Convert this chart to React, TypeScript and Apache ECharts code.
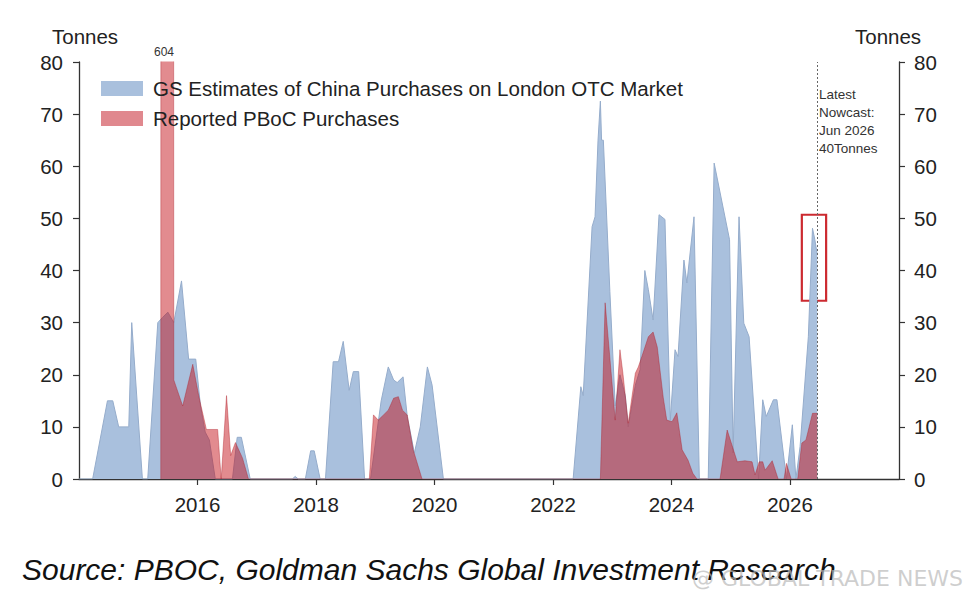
import React, { useEffect, useRef } from "react";
import * as echarts from "echarts";

// GS estimates of China purchases on London OTC market (decimal year, tonnes)
const gsDates = [
  2014.0, 2014.23, 2014.48, 2014.57, 2014.67, 2014.84, 2014.89, 2015.07, 2015.16, 2015.33,
  2015.41, 2015.5, 2015.6, 2015.73, 2015.85, 2015.97, 2016.05, 2016.13, 2016.2, 2016.3,
  2016.59, 2016.67, 2016.74, 2016.89, 2017.6, 2017.65, 2017.7, 2017.82, 2017.91, 2017.97,
  2018.07, 2018.16, 2018.29, 2018.38, 2018.46, 2018.56, 2018.63, 2018.72, 2018.82, 2018.92,
  2019.1, 2019.22, 2019.31, 2019.37, 2019.47, 2019.54, 2019.66, 2019.76, 2019.88, 2019.96,
  2020.15, 2022.34, 2022.47, 2022.51, 2022.66, 2022.71, 2022.76, 2022.8, 2022.82, 2022.85,
  2022.96, 2023.05, 2023.13, 2023.22, 2023.27, 2023.39, 2023.47, 2023.55, 2023.61, 2023.69,
  2023.79, 2023.89, 2023.98, 2024.06, 2024.11, 2024.21, 2024.26, 2024.38, 2024.47, 2024.62,
  2024.72, 2024.98, 2025.04, 2025.14, 2025.22, 2025.31, 2025.47, 2025.54, 2025.6, 2025.72,
  2025.78, 2025.94, 2026.04, 2026.1, 2026.17, 2026.31, 2026.38, 2026.42, 2026.46,
];
const gsTonnes = [
  0, 0, 15, 15, 10, 10, 30, 0, 0, 30,
  31, 32, 30, 38, 23, 23, 14, 9, 7.5, 0,
  0, 8, 8, 0, 0, 0.5, 0, 0, 5.4, 5.4,
  0, 0, 22.5, 22.5, 26.4, 17, 20.6, 20.6, 0, 0,
  15, 21.5, 19, 18.5, 19.6, 12, 5, 10, 21.5, 18,
  0, 0, 17.7, 16, 48.4, 50.3, 65, 72.5, 65, 65,
  36, 14, 20, 16, 10, 18, 21, 40, 36.3, 30.5,
  50.7, 49.8, 11.3, 24.8, 23.5, 42, 37.6, 50.3, 0, 0,
  60.6, 45.9, 5, 50.3, 29.9, 27.3, 0, 15.2, 12, 15.2,
  15.2, 0, 10.4, 0, 6.2, 27.3, 48.1, 45.9, 43,
];

// Reported PBoC purchases (decimal year, tonnes)
const pbocDates = [
  2015.38, 2015.39, 2015.58, 2015.6, 2015.75, 2015.92, 2016.02, 2016.15, 2016.34, 2016.4,
  2016.49, 2016.56, 2016.64, 2016.76, 2016.86, 2018.9, 2018.97, 2019.05, 2019.14, 2019.22,
  2019.31, 2019.39, 2019.46, 2019.54, 2019.64, 2019.79, 2022.8, 2022.88, 2023.05, 2023.13,
  2023.18, 2023.27, 2023.39, 2023.44, 2023.5, 2023.61, 2023.69, 2023.76, 2023.86, 2023.92,
  2024.01, 2024.09, 2024.18, 2024.28, 2024.36, 2024.43, 2024.82, 2024.94, 2025.11, 2025.24,
  2025.36, 2025.41, 2025.48, 2025.54, 2025.58, 2025.7, 2025.8, 2025.9, 2025.94, 2026.02,
  2026.13, 2026.2, 2026.27, 2026.38, 2026.46,
];
const pbocTonnes = [
  0, 604, 604, 19, 14, 22, 16, 9.5, 9.5, 0,
  16, 4.5, 7, 4, 0, 0, 12.3, 11.3, 12.3, 13.2,
  15.5, 15.8, 13.2, 12.3, 5.6, 0, 0, 33.8, 11.3, 24.8,
  20.3, 10.7, 20.3, 21.5, 23.5, 27.3, 28.2, 25.3, 15.7, 11.3,
  11, 12.7, 5.6, 3.6, 1.1, 0, 0, 9.4, 3.3, 3.5,
  3.3, 0.8, 3.3, 3.3, 1.7, 3.5, 0, 0, 3, 0,
  0, 6.9, 7.5, 12.6, 12.6,
];

const yearTicks = [2016, 2018, 2020, 2022, 2024, 2026];
const seriesNames = [
  "GS Estimates of China Purchases on London OTC Market",
  "Reported PBoC Purchases",
];
const nowcastDate = 2026.46;
const nowcastLines = ["Latest", "Nowcast:", "Jun 2026", "40Tonnes"];
const highlightBox = { x0: 2026.2, x1: 2026.61, y0: 34.2, y1: 50.7 };
const spikeLabel = "604";

const FONT = "'Liberation Sans', Arial, Helvetica, sans-serif";

export default function App() {
  const ref = useRef<HTMLDivElement>(null);

  useEffect(() => {
    if (!ref.current) return;
    const chart = echarts.init(ref.current, null, { renderer: "svg" });

    const yAxisCommon = {
      type: "value" as const,
      min: 0,
      max: 80,
      interval: 10,
      splitLine: { show: false },
      axisLine: { show: true, lineStyle: { color: "#333", width: 1.3 } },
      axisTick: { show: true, length: 6, lineStyle: { color: "#333", width: 1.2 } },
      axisLabel: { color: "#222", fontSize: 20.5, fontFamily: FONT },
    };

    const option = {
      animation: false,
      backgroundColor: "#fff",
      textStyle: { fontFamily: FONT },
      grid: { left: 79, right: 75, top: 62, bottom: 125, containLabel: false },
      legend: {
        orient: "vertical",
        left: 96,
        top: 73,
        itemWidth: 42,
        itemHeight: 15,
        itemGap: 9,
        selectedMode: false,
        icon: "rect",
        textStyle: {
          color: "#222",
          fontSize: 20.5,
          fontFamily: FONT,
          lineHeight: 20,
          padding: [0, 0, 0, 5],
        },
        data: [
          { name: seriesNames[0], itemStyle: { color: "#a9c0dd", borderWidth: 0 } },
          { name: seriesNames[1], itemStyle: { color: "#e0888e", borderWidth: 0 } },
        ],
      },
      xAxis: {
        type: "value",
        min: 2014.0,
        max: 2027.84,
        splitLine: { show: false },
        axisLine: { show: true, onZero: false, lineStyle: { color: "#333", width: 1.3 } },
        axisTick: {
          show: true,
          length: 6,
          customValues: yearTicks,
          lineStyle: { color: "#333", width: 1.2 },
        },
        axisLabel: {
          customValues: yearTicks,
          color: "#222",
          fontSize: 20.5,
          fontFamily: FONT,
          margin: 15,
          formatter: (v: number) => String(Math.round(v)),
        },
      },
      yAxis: [
        { ...yAxisCommon, position: "left", axisLabel: { ...yAxisCommon.axisLabel, margin: 16 } },
        { ...yAxisCommon, position: "right", axisLabel: { ...yAxisCommon.axisLabel, margin: 15 } },
      ],
      series: [
        {
          name: seriesNames[0],
          type: "line",
          yAxisIndex: 0,
          data: gsDates.map((d, i) => [d, gsTonnes[i]]),
          symbol: "none",
          showSymbol: false,
          clip: true,
          z: 2,
          itemStyle: { color: "#a9c0dd" },
          lineStyle: { color: "#95accb", width: 1 },
          areaStyle: { color: "#a9c0dd", opacity: 1 },
        },
        {
          name: seriesNames[1],
          type: "line",
          yAxisIndex: 0,
          data: pbocDates.map((d, i) => [d, pbocTonnes[i]]),
          symbol: "none",
          showSymbol: false,
          clip: true,
          z: 3,
          itemStyle: { color: "#e0888e" },
          lineStyle: { color: "rgba(175,30,40,0.4)", width: 1 },
          areaStyle: { color: "rgb(194,13,21)", opacity: 0.48 },
          markLine: {
            silent: true,
            symbol: "none",
            label: { show: false },
            lineStyle: { type: [2, 2], color: "#666", width: 1 },
            data: [{ xAxis: nowcastDate }],
          },
          markArea: {
            silent: true,
            itemStyle: { color: "rgba(0,0,0,0)", borderColor: "#cc2a30", borderWidth: 2.2 },
            data: [
              [
                { coord: [highlightBox.x0, highlightBox.y1] },
                { coord: [highlightBox.x1, highlightBox.y0] },
              ],
            ],
          },
        },
      ],
      graphic: [
        {
          type: "text",
          left: 52,
          top: 26,
          style: { text: "Tonnes", fill: "#222", font: `20.5px ${FONT}` },
        },
        {
          type: "text",
          left: 855,
          top: 26,
          style: { text: "Tonnes", fill: "#222", font: `20.5px ${FONT}` },
        },
        {
          type: "text",
          x: 164,
          y: 52,
          style: {
            text: spikeLabel,
            fill: "#333",
            font: `12px ${FONT}`,
            align: "center",
            verticalAlign: "middle",
          },
        },
        {
          type: "text",
          left: 819,
          top: 85,
          style: {
            text: nowcastLines.join("\n"),
            fill: "#333",
            font: `13.5px ${FONT}`,
            lineHeight: 18,
          },
        },
        {
          type: "text",
          left: 22,
          top: 554,
          style: {
            text: "Source: PBOC, Goldman Sachs Global Investment Research",
            fill: "#111",
            font: `italic 30px ${FONT}`,
          },
        },
        {
          type: "text",
          left: 692,
          top: 567,
          style: {
            text: "@ GLOBAL TRADE NEWS",
            fill: "rgba(185,185,185,0.7)",
            font: `22px 'DejaVu Sans', ${FONT}`,
          },
        },
      ],
    };

    chart.setOption(option as any);
    return () => chart.dispose();
  }, []);

  return (
    <div
      ref={ref}
      style={{
        position: "fixed",
        left: 0,
        top: 0,
        width: 974,
        height: 604,
        background: "#fff",
      }}
    />
  );
}
